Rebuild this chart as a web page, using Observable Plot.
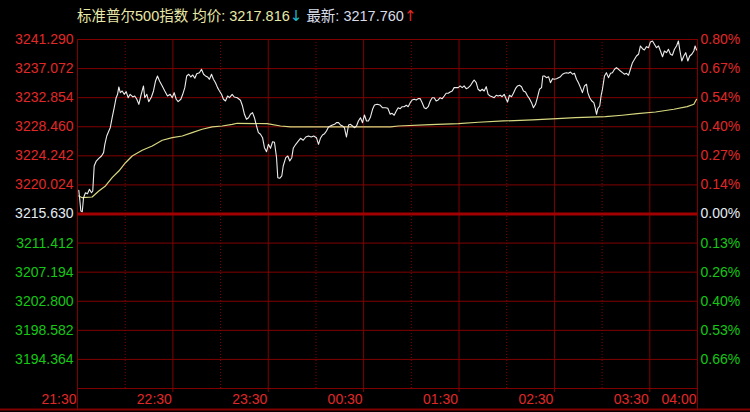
<!DOCTYPE html>
<html>
<head>
<meta charset="utf-8">
<script src="https://cdn.jsdelivr.net/npm/d3@7"></script>
<script src="https://cdn.jsdelivr.net/npm/@observablehq/plot@0.6"></script>
<style>
  html, body { margin: 0; padding: 0; background: #000; }
  #title { height: 28px; line-height: 32px; padding-left: 77px; font-family: "Liberation Sans", "Noto Sans CJK SC", sans-serif; font-size: 14.5px; white-space: nowrap; overflow: visible; }
  #title .arrow { font-family: "DejaVu Sans", sans-serif; font-size: 15px; }
  #chart svg { display: block; }
</style>
</head>
<body>
<div id="title"></div>
<div id="chart"></div>
<script>
// ---- data ----
const titleName = "标准普尔500指数";
const avgLabel = "均价:";
const avgValue = "3217.816";
const lastLabel = "最新:";
const lastValue = "3217.760";

const leftTickLabels = ["3241.290","3237.072","3232.854","3228.460","3224.242","3220.024","3215.630","3211.412","3207.194","3202.800","3198.582","3194.364"];
const rightTickLabels = ["0.80%","0.67%","0.54%","0.40%","0.27%","0.14%","0.00%","0.13%","0.26%","0.40%","0.53%","0.66%"];
const timeLabels = ["21:30","22:30","23:30","00:30","01:30","02:30","03:30","04:00"];
const timeLabelMinutes = [0, 60, 120, 180, 240, 300, 360, 390]; // minutes after 21:30
const halfHourGridMinutes = [0, 60, 120, 180, 240, 300, 360, 390];
const hourGridMinutes = [30, 90, 150, 210, 270, 330];

// [minutes after 21:30, price]
const priceSeries = [
[0.8,3219.12],[1.3,3218.03],[2.1,3216.07],[3.0,3215.97],[3.8,3218.03],[5.0,3218.76],[6.3,3218.62],[7.5,3219.26],[8.8,3218.76],[9.6,3219.01],
[10.5,3222.69],[11.8,3223.42],[13.4,3223.82],[15.1,3224.16],[16.4,3224.65],[17.2,3225.88],[18.4,3227.10],[19.7,3227.84],[20.6,3228.32],[21.8,3229.79],
[23.1,3231.26],[24.3,3232.73],[25.2,3233.23],[26.0,3234.31],[26.9,3233.47],[28.1,3233.72],[29.4,3233.23],[30.6,3233.62],[31.9,3232.73],[33.1,3233.23],
[34.8,3232.84],[36.0,3232.98],[37.3,3232.50],[38.6,3231.76],[39.8,3232.98],[41.5,3234.46],[42.3,3232.73],[43.6,3233.23],[44.8,3232.15],[46.5,3232.84],
[47.8,3233.72],[49.1,3235.19],[50.3,3235.93],[51.6,3235.19],[53.3,3234.46],[54.9,3233.72],[56.6,3232.98],[58.3,3233.23],[59.6,3232.73],[60.8,3233.47],
[62.1,3232.50],[63.3,3232.15],[65.0,3232.50],[66.2,3233.23],[67.5,3234.21],[68.7,3235.93],[70.0,3236.18],[71.3,3235.78],[72.5,3236.07],[73.8,3235.59],
[75.0,3236.26],[76.7,3236.41],[78.0,3236.91],[79.3,3236.18],[80.5,3235.93],[81.8,3235.78],[83.0,3235.44],[84.3,3236.18],[85.5,3235.44],[86.8,3234.94],
[88.1,3234.21],[89.3,3233.72],[90.6,3233.23],[91.8,3232.50],[93.1,3232.25],[94.4,3232.98],[95.6,3232.73],[97.3,3233.23],[98.6,3232.84],
[100.5,3232.73],[102.5,3232.35],[103.8,3231.51],[105.0,3230.29],[106.3,3229.56],[107.6,3229.79],[108.8,3230.29],[110.1,3230.53],[111.3,3229.79],[112.6,3228.57],
[113.8,3227.59],[115.1,3227.35],[116.4,3226.85],[117.6,3225.38],[118.9,3224.79],[120.1,3225.88],[121.4,3225.29],[122.7,3226.26],[123.9,3226.18],[125.2,3223.91],
[126.0,3220.97],[127.2,3220.88],[128.5,3221.22],[129.4,3222.69],[131.0,3223.91],[132.3,3224.16],[133.5,3223.42],[134.8,3223.91],[135.7,3225.29],[137.3,3225.88],
[139.0,3226.37],[140.3,3226.76],[142.0,3226.47],[143.6,3226.95],[145.3,3227.10],[147.0,3226.95],[148.6,3227.10],[150.3,3226.85],[151.6,3225.88],[152.8,3226.76],
[154.1,3227.25],[155.4,3227.44],[156.6,3227.84],[157.9,3228.43],[159.1,3228.57],[160.4,3228.72],[161.7,3228.82],[162.9,3229.06],[164.2,3229.06],[165.4,3228.72],
[166.7,3228.57],[167.9,3228.32],[169.2,3226.95],[170.5,3228.72],[171.7,3228.82],[173.0,3228.57],[174.2,3228.32],[175.5,3228.57],[176.7,3229.31],[178.0,3229.79],
[179.3,3229.06],[180.5,3230.19],[181.8,3229.31],[183.0,3229.31],[184.3,3229.90],[185.6,3231.03],[186.8,3231.66],[188.5,3231.76],[190.2,3231.66],[191.8,3231.26],
[193.9,3231.26],[195.2,3231.18],
[196.7,3230.29],[197.9,3230.44],[199.2,3230.15],[200.5,3230.78],[201.7,3231.26],[203.0,3231.12],[204.2,3231.41],[205.5,3231.41],[206.8,3231.62],[208.0,3231.41],
[209.3,3232.00],[210.5,3232.40],[211.8,3232.50],[213.1,3232.40],[214.3,3232.59],[215.6,3232.59],[216.8,3232.00],[218.1,3231.26],[219.3,3231.12],[220.6,3231.41],
[221.9,3232.25],[223.1,3232.73],[224.4,3232.73],[225.6,3232.25],[226.9,3232.40],[228.1,3232.73],[229.4,3232.59],[230.7,3232.98],[231.9,3233.38],[233.2,3233.38],
[234.4,3233.57],[235.7,3233.72],[236.9,3234.21],[238.2,3234.21],[239.5,3234.21],[240.7,3234.46],[242.0,3234.21],[243.2,3234.46],[244.5,3234.06],[245.8,3234.21],
[247.0,3234.46],[248.3,3234.94],[249.5,3235.34],[250.8,3234.94],[252.0,3233.97],[253.3,3233.72],[254.6,3233.97],[255.8,3233.72],[257.1,3234.35],[258.3,3233.23],
[259.6,3232.98],[260.8,3232.88],[262.1,3232.73],[263.4,3233.09],[264.6,3232.98],[265.9,3233.09],[267.1,3232.88],[268.4,3233.23],[269.7,3232.50],[270.5,3232.10],
[271.7,3233.09],[273.0,3232.88],[274.2,3233.38],[275.5,3234.06],[276.8,3234.46],[278.0,3234.56],[279.3,3234.35],[280.5,3233.72],[281.8,3233.57],[283.1,3232.98],
[284.3,3232.59],[285.6,3232.00],[286.8,3231.26],[288.1,3231.76],[289.3,3232.73],[290.6,3233.97],[291.9,3234.21],[292.7,3235.93],
[293.7,3235.93],[295.0,3235.68],[296.3,3235.82],[297.5,3234.94],[298.8,3235.53],[300.0,3235.44],[301.3,3235.53],[302.6,3235.68],[303.8,3235.82],[305.1,3236.18],
[306.3,3236.32],[307.6,3236.41],[308.8,3236.32],[310.1,3236.51],[311.4,3236.18],[312.6,3236.32],[313.9,3235.44],[315.1,3234.94],[316.4,3234.21],[317.6,3233.47],
[318.9,3234.46],[320.2,3234.71],[321.0,3233.47],[322.2,3232.73],[323.5,3232.25],[324.8,3232.00],[325.6,3231.26],[326.5,3230.29],[327.3,3231.12],[328.5,3231.51],
[329.4,3233.09],[330.2,3233.97],[331.5,3235.93],[332.7,3236.41],[334.0,3235.68],[335.3,3236.32],[336.5,3236.41],[337.8,3236.91],[339.0,3237.15],[340.3,3236.91],
[341.5,3236.66],[342.8,3236.41],[344.1,3236.18],[345.3,3236.32],[346.6,3236.03],[347.8,3236.91],[349.1,3237.88],[350.4,3238.38],[351.6,3238.87],[352.9,3239.12],
[354.1,3240.34],[355.4,3239.94],[356.6,3239.75],[357.9,3240.24],[359.2,3240.09],[360.4,3240.93],[361.7,3241.07],[362.9,3240.59],[364.2,3240.09],[365.5,3240.34],
[366.7,3239.60],[368.0,3238.76],[369.2,3239.60],[370.5,3239.35],[371.7,3239.85],[373.0,3239.12],[374.2,3238.97],[375.5,3239.85],[376.8,3240.34],[378.0,3241.07],
[378.8,3239.85],[380.1,3238.13],[381.4,3238.87],[382.6,3239.35],[383.9,3238.13],[385.1,3238.87],[386.4,3239.12],[387.7,3239.60],[388.5,3240.34],[389.4,3239.75]
];

// [minutes after 21:30, average price]
const avgSeries = [
[0.8,3218.28],[3.0,3218.03],[9.2,3218.13],[13.4,3219.01],[17.6,3219.75],[21.8,3220.97],[26.0,3221.95],[30.2,3223.17],[34.4,3224.16],[40.7,3225.00],
[47.0,3225.63],[53.3,3226.47],[59.6,3226.85],[65.9,3227.10],[72.1,3227.59],[78.4,3228.09],[84.7,3228.43],[91.0,3228.57],[97.3,3228.82],[100.5,3228.97],
[119.3,3228.91],[127.7,3228.57],[134.0,3228.43],[159.1,3228.43],[184.3,3228.43],[196.9,3228.43],[201.9,3228.57],[222.0,3228.76],[239.6,3228.91],[252.2,3229.12],
[268.0,3229.31],[286.2,3229.46],[301.7,3229.65],[313.2,3229.79],[332.1,3229.94],[342.6,3230.15],[352.1,3230.38],[363.6,3230.63],[375.1,3231.03],[383.5,3231.41],
[387.7,3231.76],[389.4,3232.50]
];

// ---- derived scale setup ----
const yTop = +leftTickLabels[0];
const yBase = +leftTickLabels[6];
const step = (yTop - yBase) / 6;
const yBottom = yBase - 6 * step;
const tickValues = leftTickLabels.map((_, i) => yTop - i * step);
const ticks = tickValues.map((v, i) => ({v, left: leftTickLabels[i], right: rightTickLabels[i], i}));

const RED = "#e02828", GREEN = "#14c814", WHITE = "#e4ecf4";
const GRID = "#800000";
const labelColor = d => d.i < 6 ? RED : d.i === 6 ? WHITE : GREEN;

// ---- title ----
const t = document.getElementById("title");
t.innerHTML =
  `<span style="color:#e8e8a8">${titleName} ${avgLabel} ${avgValue}</span>` +
  `<span class="arrow" style="color:#20b8c8">↓</span> ` +
  `<span style="color:#d8dce8">${lastLabel} ${lastValue}</span>` +
  `<span class="arrow" style="color:#e02828">↑</span>`;

// ---- chart ----
const plot = Plot.plot({
  width: 750,
  height: 384,
  marginTop: 11,
  marginBottom: 24,
  marginLeft: 77,
  marginRight: 53,
  style: {background: "#000", fontFamily: "'Liberation Sans', Arial, sans-serif", fontSize: "14px", overflow: "visible"},
  x: {domain: [0, 390], axis: null},
  y: {domain: [yBottom, yTop], axis: null},
  marks: [
    // horizontal grid
    Plot.ruleY(ticks.filter(d => d.i !== 6), {y: "v", stroke: GRID, strokeWidth: 1}),
    Plot.ruleY([yBottom], {stroke: GRID, strokeWidth: 1}),
    // full-width bottom line
    Plot.ruleY([yBottom], {stroke: GRID, strokeWidth: 2, dy: 21, insetLeft: -77, insetRight: -53}),
    // vertical solid lines at :30
    Plot.ruleX(halfHourGridMinutes, {y1: yTop, y2: yBottom, stroke: GRID, strokeWidth: 1, insetBottom: -4}),
    // frame edges extend to bottom line
    Plot.ruleX([0, 390], {y1: yTop, y2: yBottom, stroke: GRID, strokeWidth: 1, insetBottom: -21}),
    // dotted hour lines
    Plot.ruleX(hourGridMinutes, {y1: yTop, y2: yBottom, stroke: GRID, strokeWidth: 1, strokeDasharray: "1,2"}),
    // baseline
    Plot.ruleY([yBase], {stroke: "#a00000", strokeWidth: 3}),
    // left labels
    Plot.text(ticks, {x: () => 0, y: "v", text: "left", fill: labelColor, textAnchor: "end", dx: -4, fontSize: 14}),
    // right labels
    Plot.text(ticks, {x: () => 390, y: "v", text: "right", fill: labelColor, textAnchor: "start", dx: 3, fontSize: 14}),
    // time labels
    Plot.text(timeLabels, {x: (d, i) => timeLabelMinutes[i], y: () => yBottom, text: d => d, fill: RED, textAnchor: "end", dx: -1, dy: 11, fontSize: 14}),
    // average line
    Plot.line(avgSeries, {x: d => d[0], y: d => d[1], stroke: "#d8d880", strokeWidth: 1.2}),
    // price line
    Plot.line(priceSeries, {x: d => d[0], y: d => d[1], stroke: "#ececec", strokeWidth: 1.1})
  ]
});
document.getElementById("chart").appendChild(plot);
</script>
</body>
</html>
